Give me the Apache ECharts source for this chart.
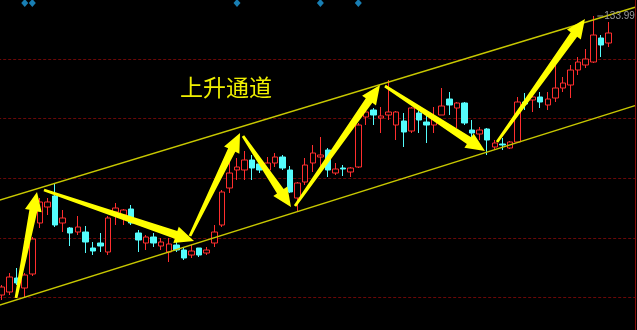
<!DOCTYPE html>
<html><head><meta charset="utf-8">
<script src="https://cdn.jsdelivr.net/npm/echarts@6/dist/echarts.min.js"></script>
<style>html,body{margin:0;padding:0;background:#000;overflow:hidden}#c{width:637px;height:330px}</style>
</head><body><div id="c"></div>
<script>
// ---- data ----
const opens = [106.09,106.39,107.79,106.79,108.19,113.29,114.89,115.99,113.29,112.79,
  112.39,112.39,110.79,111.29,110.39,114.39,114.09,114.69,112.29,111.29,
  111.89,110.99,110.39,111.09,110.59,110.09,110.79,110.29,111.29,113.09,
  116.79,118.59,118.59,119.59,119.19,118.59,119.29,119.89,118.59,115.79,
  117.39,119.29,119.89,120.59,118.29,118.79,118.39,118.89,123.89,124.59,
  123.79,124.09,123.09,123.49,122.49,124.29,123.39,123.09,124.09,125.69,
  124.79,125.29,122.59,122.19,122.69,120.89,121.19,120.79,121.39,125.39,
  125.59,125.89,125.09,125.79,126.79,127.09,128.59,129.09,129.39,131.79,131.29];
const closes = [106.89,107.89,107.29,108.09,111.69,115.39,115.39,113.09,113.79,112.29,
  112.89,111.39,110.49,110.99,113.79,114.79,114.59,113.29,111.59,111.89,
  111.29,111.39,111.19,110.59,109.79,110.49,110.09,110.59,112.39,116.39,
  118.29,118.89,119.59,118.79,118.59,119.29,119.89,118.79,116.39,117.29,
  119.09,120.29,120.09,118.59,118.69,118.69,118.79,123.09,124.39,124.09,
  123.99,124.39,124.39,122.39,124.79,123.59,123.09,123.89,124.99,125.09,
  125.29,123.29,122.29,122.59,121.59,121.29,121.09,121.39,125.39,125.19,
  125.89,125.39,125.69,126.79,127.29,128.59,129.39,129.69,132.09,131.09,132.29];
const lows = [105.59,106.09,107.09,105.89,107.99,112.79,114.09,112.89,112.39,110.99,
  112.09,110.29,110.09,110.39,110.09,113.09,113.09,113.09,110.39,110.59,
  110.89,110.59,109.39,110.39,109.59,109.79,109.89,110.09,110.89,112.89,
  116.29,117.59,117.59,117.59,118.29,118.29,118.89,118.59,116.29,114.39,
  117.09,118.39,118.89,117.89,118.09,117.99,117.89,118.79,123.09,123.09,
  122.29,123.59,121.59,120.89,122.29,122.29,121.29,122.29,124.09,124.09,
  122.79,123.09,121.59,121.59,120.09,120.59,120.59,120.69,121.29,124.59,
  124.39,124.79,124.59,125.39,126.39,125.79,128.09,128.79,129.29,129.89,130.89];
const highs = [107.09,108.29,108.79,108.29,111.89,115.79,115.79,117.29,114.59,112.89,
  113.99,112.99,111.39,112.29,113.99,115.29,114.69,115.09,112.59,112.09,
  112.29,111.79,111.79,111.49,110.79,111.09,110.79,110.89,113.09,116.59,
  119.59,119.79,120.49,120.09,119.29,119.89,120.29,120.09,118.99,117.39,
  119.79,121.09,121.89,120.79,119.29,119.09,118.89,123.29,124.89,124.79,
  124.89,127.59,124.49,124.29,124.89,124.99,124.09,124.89,126.79,126.39,
  125.39,125.39,123.59,122.89,122.79,121.59,121.79,121.49,125.89,126.29,
  126.09,126.39,126.39,129.29,127.89,129.09,129.89,130.69,133.99,132.09,133.39];
const emptySlots = ['E1','E2','E3'];
const categories = opens.map((_, i) => 'K' + (i + 1)).concat(emptySlots);
const channelUpper = [[-0.5, 115.54], [83.5, 134.86]];
const channelLower = [[-0.5, 105.03], [83.5, 125.03]];
// arrows: [tailIndex, tailPrice, tipIndex, tipPrice]
const arrows = [
  [1.85, 105.79, 4.62, 116.39],
  [5.54, 116.59, 25.33, 111.49],
  [24.80, 111.99, 31.40, 122.29],
  [31.79, 121.99, 38.12, 114.89],
  [38.65, 114.99, 49.86, 127.09],
  [50.52, 126.99, 63.71, 120.49],
  [65.30, 121.39, 76.90, 133.69]
];
const markerIndex = [3, 4, 31, 42, 47];
const markerLevel = 135.29;
const maxLabel = '133.99';
const channelTitle = '上升通道';

const kData = opens.map((o, i) => [o, closes[i], lows[i], highs[i]]);
const maxIdx = highs.indexOf(Math.max(...highs));

function renderArrow(params, api) {
  const a = api.coord([api.value(0), api.value(1)]);
  const b = api.coord([api.value(2), api.value(3)]);
  const dx = b[0] - a[0], dy = b[1] - a[1];
  const L = Math.hypot(dx, dy);
  const ux = dx / L, uy = dy / L, nx = -uy, ny = ux;
  const hl = 19, hw = 8.5, w0 = 1.4, w1 = 4;
  const bx = b[0] - ux * hl, by = b[1] - uy * hl;
  const pts = [
    [a[0] + nx * w0, a[1] + ny * w0],
    [bx + nx * w1, by + ny * w1],
    [bx + nx * hw, by + ny * hw],
    [b[0], b[1]],
    [bx - nx * hw, by - ny * hw],
    [bx - nx * w1, by - ny * w1],
    [a[0] - nx * w0, a[1] - ny * w0]
  ];
  return { type: 'polygon', shape: { points: pts }, style: { fill: '#ffff00' } };
}

const chart = echarts.init(document.getElementById('c'), null, { renderer: 'canvas' });
chart.setOption({
  backgroundColor: '#000',
  animation: false,
  grid: [
    { left: -1.8, right: 2, top: 0, height: 330, outerBoundsMode: 'none', containLabel: false },
    { left: -1.8, right: 2, top: -0.5, height: 357.5, outerBoundsMode: 'none', containLabel: false }
  ],
  xAxis: [
    { type: 'category', gridIndex: 0, data: categories, axisLine: { show: false }, axisTick: { show: false }, axisLabel: { show: false }, splitLine: { show: false } },
    { type: 'value', gridIndex: 0, min: -0.5, max: 83.5, show: false },
    { type: 'value', gridIndex: 1, min: 0, max: 1, show: false }
  ],
  yAxis: [
    { type: 'value', gridIndex: 0, min: 102.59, max: 135.59, axisLine: { show: false }, axisTick: { show: false }, axisLabel: { show: false }, splitLine: { show: false } },
    { type: 'value', gridIndex: 1, position: 'right', min: 100, max: 136, interval: 6,
      axisLine: { show: true, onZero: false, lineStyle: { color: '#8a0c0c', width: 1 } },
      axisTick: { show: false }, axisLabel: { show: false },
      splitLine: { show: true, showMinLine: false, showMaxLine: false, lineStyle: { color: '#6a0808', type: [3, 2], width: 1 } } }
  ],
  series: [
    {
      type: 'candlestick', xAxisIndex: 0, yAxisIndex: 0, z: 2,
      data: kData, barWidth: 6,
      itemStyle: { color: '#000', color0: '#54fcfc', borderColor: '#ff2e2e', borderColor0: '#54fcfc', borderWidth: 1 },
      markPoint: {
        symbol: 'rect', symbolSize: [6, 1], symbolOffset: [7, 0],
        itemStyle: { color: '#9a9a9a' },
        label: { show: true, position: 'right', distance: 1, formatter: maxLabel, color: '#9a9a9a', fontSize: 10, fontFamily: 'Liberation Sans' },
        data: [{ coord: [maxIdx, highs[maxIdx]] }]
      }
    },
    {
      type: 'line', xAxisIndex: 1, yAxisIndex: 0, z: 3, data: channelUpper, symbol: 'none',
      lineStyle: { color: '#c8c800', width: 1.5 }, silent: true
    },
    {
      type: 'line', xAxisIndex: 1, yAxisIndex: 0, z: 3, data: channelLower, symbol: 'none',
      lineStyle: { color: '#c8c800', width: 1.5 }, silent: true
    },
    {
      type: 'custom', xAxisIndex: 1, yAxisIndex: 0, z: 4, data: arrows, renderItem: renderArrow, silent: true
    },
    {
      type: 'scatter', xAxisIndex: 0, yAxisIndex: 0, z: 5, clip: false,
      data: markerIndex.map(i => [i, markerLevel]),
      symbol: 'diamond', symbolSize: [7, 8], itemStyle: { color: '#1e9ee0' }
    }
  ],
  graphic: [
    { type: 'text', left: 180, top: 76, z: 10,
      style: { text: channelTitle, fill: '#f0f000', font: '23px "Noto Sans CJK SC"' } }
  ]
});
</script>
</body></html>
